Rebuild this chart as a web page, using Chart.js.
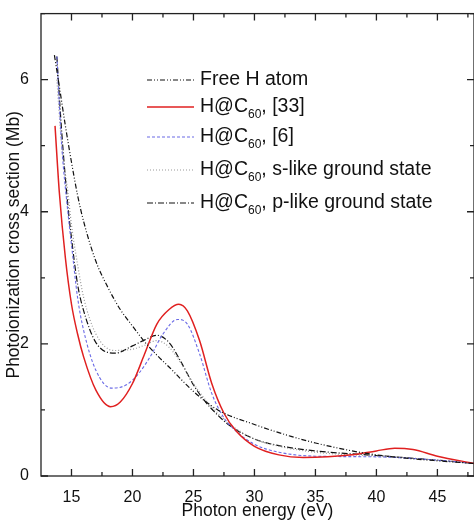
<!DOCTYPE html>
<html>
<head>
<meta charset="utf-8">
<script src="https://cdn.jsdelivr.net/npm/chart.js@4/dist/chart.umd.min.js"></script>
<style>
  html, body { margin: 0; padding: 0; background: #fff; }
  #wrap { width: 474px; height: 526px; position: relative; }
</style>
</head>
<body>
<div id="wrap"><canvas id="chart"></canvas></div>
<script>
// Data (eV, Mb)
const freeX = [13.6, 14, 14.5, 15, 15.5, 16, 17, 18, 19, 20, 21, 22, 23, 25, 27, 30, 33, 35, 38, 40, 43, 45, 48];
const freeY = [6.37, 5.9, 5.3, 4.75, 4.25, 3.85, 3.25, 2.85, 2.52, 2.27, 2.03, 1.83, 1.65, 1.28, 1.0, 0.78, 0.6, 0.5, 0.38, 0.32, 0.26, 0.23, 0.19];

const redX = [13.65, 14, 14.5, 15, 15.5, 16, 17, 18.2, 19, 20, 21, 22, 23, 23.8, 24.5, 25.5, 26.5, 27.5, 28.5, 30, 32, 34, 36, 38, 40, 41.5, 43, 45, 48];
const redY = [5.3, 4.3, 3.3, 2.6, 2.15, 1.8, 1.3, 1.05, 1.12, 1.4, 1.85, 2.3, 2.52, 2.6, 2.5, 2.05, 1.4, 0.95, 0.68, 0.45, 0.32, 0.28, 0.29, 0.32, 0.38, 0.42, 0.4, 0.3, 0.19];

const blueX = [13.8, 14.2, 14.7, 15, 15.5, 16, 17, 18.3, 19.5, 20.5, 21.5, 22.5, 23.7, 24.5, 25.5, 26.5, 27.5, 28.5, 30, 32, 35, 40, 45, 48];
const blueY = [6.35, 5.0, 4.0, 3.5, 2.7, 2.2, 1.6, 1.33, 1.38, 1.55, 1.82, 2.15, 2.37, 2.3, 1.85, 1.25, 0.88, 0.68, 0.48, 0.36, 0.3, 0.29, 0.24, 0.19];

const sX = [13.8, 14.2, 14.7, 15, 15.5, 16, 17, 18.5, 20, 21, 22, 23, 24, 25, 26, 27, 28, 30, 32, 35, 40, 45, 48];
const sY = [6.0, 5.0, 4.3, 3.8, 3.2, 2.7, 2.15, 1.9, 1.92, 1.98, 2.05, 1.95, 1.7, 1.4, 1.15, 0.95, 0.78, 0.56, 0.45, 0.36, 0.3, 0.24, 0.19];

const pX = [13.8, 14.2, 14.7, 15, 15.5, 16, 17, 18.6, 20, 21, 22, 23, 24, 25, 26, 27, 28, 30, 32, 35, 40, 45, 48];
const pY = [6.35, 5.2, 4.1, 3.6, 2.9, 2.5, 2.02, 1.86, 1.97, 2.06, 2.13, 2.02, 1.72, 1.38, 1.12, 0.92, 0.76, 0.56, 0.46, 0.38, 0.31, 0.24, 0.19];

const xTickMin = 12.5, xTickMax = 48;
const yTickMin = 0, yTickMax = 7;

function pts(xs, ys) { return xs.map((x, i) => ({ x: x, y: ys[i] })); }

const series = [
  { label: 'Free H atom', sub: null, rest: '', data: pts(freeX, freeY), color: '#111', dash: [5, 2, 1, 2, 1, 2], width: 1.2 },
  { label: 'H@C', sub: '60', rest: ', [33]', data: pts(redX, redY), color: '#e02020', dash: [], width: 1.5 },
  { label: 'H@C', sub: '60', rest: ', [6]', data: pts(blueX, blueY), color: '#6a6ae6', dash: [3, 2], width: 1.1 },
  { label: 'H@C', sub: '60', rest: ', s-like ground state', data: pts(sX, sY), color: '#999', dash: [1, 2], width: 1.2 },
  { label: 'H@C', sub: '60', rest: ', p-like ground state', data: pts(pX, pY), color: '#111', dash: [6, 2, 1, 2], width: 1.2 }
];

const FONT = "'Liberation Sans', Arial, sans-serif";

// inward ticks on all four sides
const frameTicks = {
  id: 'frameTicks',
  afterDraw(chart) {
    const ctx = chart.ctx, a = chart.chartArea;
    const xs = chart.scales.x, ys = chart.scales.y;
    ctx.save();
    ctx.strokeStyle = '#222';
    ctx.lineWidth = 1.3;
    ctx.strokeRect(a.left, a.top, a.right - a.left, a.bottom - a.top);
    xs.ticks.forEach(t => {
      const px = xs.getPixelForValue(t.value);
      const len = (t.value % 5 === 0) ? 7 : 4;
      ctx.beginPath();
      ctx.moveTo(px, a.bottom); ctx.lineTo(px, a.bottom - len);
      ctx.moveTo(px, a.top); ctx.lineTo(px, a.top + len);
      ctx.stroke();
    });
    ys.ticks.forEach(t => {
      const py = ys.getPixelForValue(t.value);
      const len = (t.value % 2 === 0) ? 7 : 4;
      ctx.beginPath();
      ctx.moveTo(a.left, py); ctx.lineTo(a.left + len, py);
      ctx.moveTo(a.right, py); ctx.lineTo(a.right - len, py);
      ctx.stroke();
    });
    ctx.restore();
  }
};

// legend with subscripts
const legendPlot = {
  id: 'legendPlot',
  afterDraw(chart) {
    const ctx = chart.ctx;
    const rows = [80, 107, 137, 170, 203];
    ctx.save();
    ctx.textBaseline = 'middle';
    series.forEach((s, i) => {
      const y = rows[i];
      ctx.strokeStyle = s.color;
      ctx.lineWidth = s.width;
      ctx.setLineDash(s.dash);
      ctx.beginPath();
      ctx.moveTo(147, y); ctx.lineTo(194, y);
      ctx.stroke();
      ctx.setLineDash([]);
      ctx.fillStyle = '#111';
      ctx.font = '19.5px ' + FONT;
      let x = 200;
      ctx.fillText(s.label, x, y);
      x += ctx.measureText(s.label).width;
      if (s.sub) {
        ctx.font = '12px ' + FONT;
        ctx.fillText(s.sub, x, y + 8);
        x += ctx.measureText(s.sub).width;
        ctx.font = '19.5px ' + FONT;
        ctx.fillText(s.rest, x, y);
      }
    });
    ctx.restore();
  }
};

new Chart(document.getElementById('chart'), {
  type: 'line',
  data: {
    datasets: series.map(s => ({
      label: s.label + (s.sub || '') + s.rest,
      data: s.data,
      borderColor: s.color,
      borderWidth: s.width,
      borderDash: s.dash,
      pointRadius: 0,
      fill: false,
      cubicInterpolationMode: 'monotone'
    }))
  },
  options: {
    responsive: true,
    maintainAspectRatio: false,
    animation: false,
    layout: { padding: { top: -11, right: 0, left: 0, bottom: 0 } },
    plugins: { legend: { display: false }, tooltip: { enabled: false } },
    scales: {
      x: {
        type: 'linear',
        min: xTickMin, max: xTickMax,
        afterFit: s => { s.height = 50; },
        afterBuildTicks: s => {
          const t = [];
          for (let v = 15; v <= 47.5; v += 2.5) t.push({ value: v });
          s.ticks = t;
        },
        grid: { display: false },
        border: { display: false },
        ticks: {
          autoSkip: false, maxRotation: 0, padding: 4,
          color: '#111', font: { family: FONT, size: 16 },
          callback: v => (v % 5 === 0 ? String(v) : '')
        },
        title: { display: true, text: 'Photon energy (eV)', color: '#111', font: { family: FONT, size: 17.5 }, padding: { top: 0 } }
      },
      y: {
        min: yTickMin, max: yTickMax,
        afterFit: s => { s.width = 41; },
        grid: { display: false },
        border: { display: false },
        ticks: {
          stepSize: 1, autoSkip: false, padding: 4,
          color: '#111', font: { family: FONT, size: 16 },
          callback: v => (v % 2 === 0 ? String(v) : '')
        },
        title: { display: true, text: 'Photoionization cross section (Mb)', color: '#111', font: { family: FONT, size: 17.5 }, padding: { bottom: 0 } }
      }
    }
  },
  plugins: [frameTicks, legendPlot]
});
</script>
</body>
</html>
